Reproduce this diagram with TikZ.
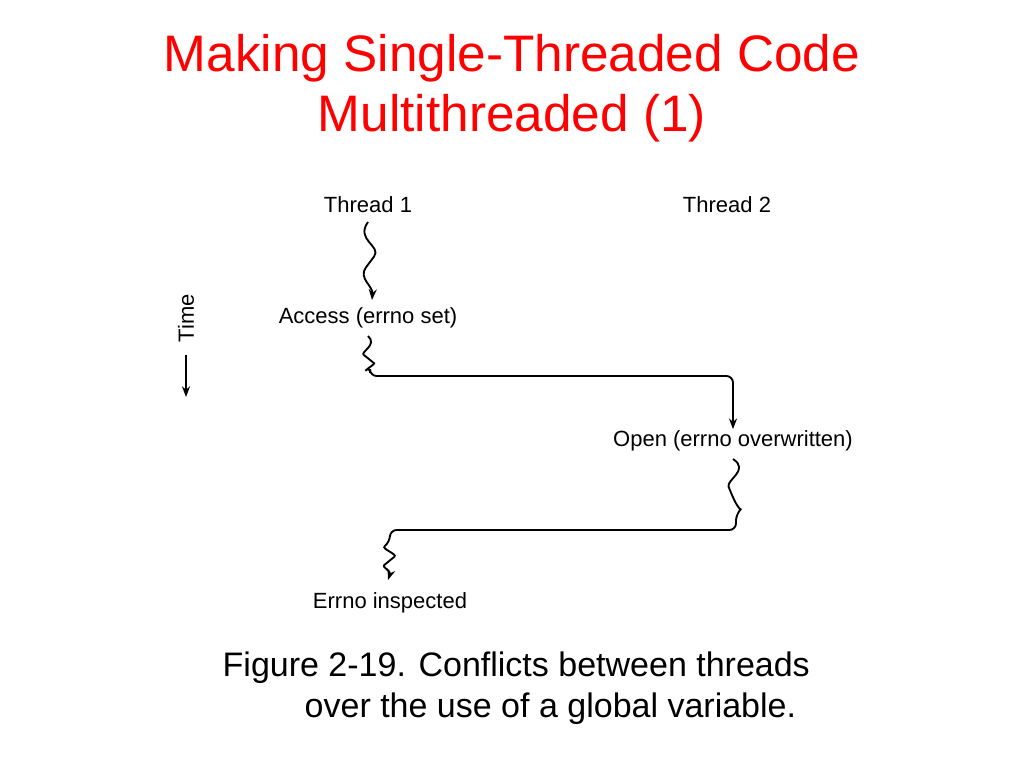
\documentclass[tikz,border=0pt]{standalone}
\usepackage{fontspec}
\setmainfont{Liberation Sans}
\usetikzlibrary{arrows.meta}

\begin{document}
\begin{tikzpicture}[x=0.75pt,y=-0.75pt,
    lbl/.style={inner sep=1pt, font=\fontsize{16.5}{20}\selectfont},
    flow/.style={line width=1.4pt, -{Stealth[length=8pt,width=6pt]}, rounded corners=5pt}]
        \useasboundingbox (0,0) rectangle (1024,768);
        % Title
        \node (title) at (512,88) [align=center, text=red, font=\fontsize{38.5}{45}\selectfont]
            {Making Single-Threaded Code\\Multithreaded (1)};
        
        % Thread labels and events
        \node[lbl] (t1) at (368,205) {Thread 1};
        \node[lbl] (t2) at (727,205) {Thread 2};
        \node[lbl] (access) at (368,318) {Access (errno set)};
        \node[lbl] (open) at (733,441) {Open (errno overwritten)};
        \node[lbl] (inspect) at (390,603) {Errno inspected};
        
        % Path points
        \coordinate (a1) at (368,222);
        \coordinate (a2) at (372,300);
        \coordinate (b1) at (368,336);
        \coordinate (c1) at (370,376);
        \coordinate (c2) at (733,376);
        \coordinate (d1) at (733,459);
        \coordinate (c3) at (736,530);
        \coordinate (c4) at (390,530);
        \coordinate (d2) at (388,580);
        
        % Flows
        \draw[flow] (a1) .. controls (355,240) and (382,246) .. (370,262)
            .. controls (358,278) and (373,286) .. (a2);
        \draw[flow] (b1) .. controls (378,345) and (360,352) .. (369,359)
            .. controls (375,364) and (368,368) .. (370,366) -- (c1) -- (c2) -- (open.north);
        \draw[flow] (d1) .. controls (750,470) and (726,480) .. (731,493)
            .. controls (736,504) and (740,510) .. (736,514) -- (c3) -- (c4) -- (390,542)
            .. controls (381,549) and (398,554) .. (389,561)
            .. controls (382,567) and (391,571) .. (d2);
        
        % Time axis
        \node[lbl, rotate=90] (time) at (186,318) {Time};
        \coordinate (tend) at (186,397);
        \draw[line width=1.4pt, -{Stealth[length=8pt,width=6pt]}] (186,355) -- (tend);
        
        % Caption
        \node (cap1) at (218,668) [anchor=west, font=\fontsize{25.5}{30}\selectfont] {Figure 2-19. Conflicts between threads};
        \node (cap2) at (300,709) [anchor=west, font=\fontsize{25.5}{30}\selectfont] {over the use of a global variable.};
    \end{tikzpicture}
\end{document}
